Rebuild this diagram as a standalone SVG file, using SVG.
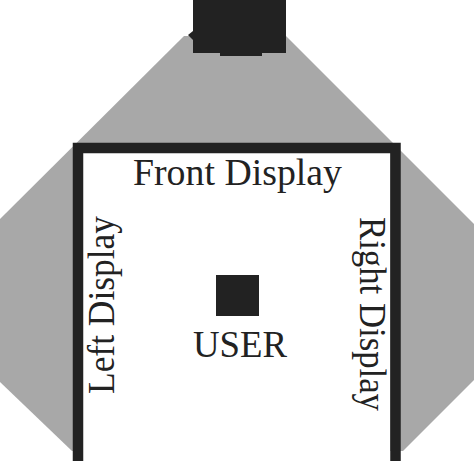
<svg xmlns="http://www.w3.org/2000/svg" width="474" height="474" viewBox="0 0 474 474">
<style>
.lbl{font-family:"Liberation Serif","Times New Roman",serif;font-size:37px;fill:#222;}
.dark{fill:#222;}
</style>
<rect width="474" height="474" fill="#fff"/>
<g id="projection">
<polygon points="184,36 286,36 474,224 474,380 403,451 72,451 0,382 0,219" fill="#a8a8a8"/>
<rect x="83" y="153" width="307" height="321" fill="#fff"/>
</g>
<g id="projector">
<rect class="dark" x="193" y="0" width="93" height="53"/>
<rect class="dark" x="220" y="50" width="42" height="6"/>
<polygon class="dark" points="193,31 188,35 193,40"/>
</g>
<g id="frame">
<path d="M78,461 V148 H395.5 V461" fill="none" stroke="#222" stroke-width="10.5" stroke-linejoin="miter"/>
</g>
<g id="front-display">
<text class="lbl" x="237.5" y="185" text-anchor="middle" textLength="209" lengthAdjust="spacingAndGlyphs">Front Display</text>
</g>
<g id="left-display">
<text class="lbl" transform="translate(114,305) rotate(-90)" text-anchor="middle" textLength="178" lengthAdjust="spacingAndGlyphs">Left Display</text>
</g>
<g id="right-display">
<text class="lbl" transform="translate(360,314) rotate(90)" text-anchor="middle" textLength="194" lengthAdjust="spacingAndGlyphs">Right Display</text>
</g>
<g id="user">
<rect class="dark" x="216" y="275" width="43" height="41"/>
<text class="lbl" x="240" y="357" text-anchor="middle" textLength="94" lengthAdjust="spacingAndGlyphs">USER</text>
</g>
</svg>
